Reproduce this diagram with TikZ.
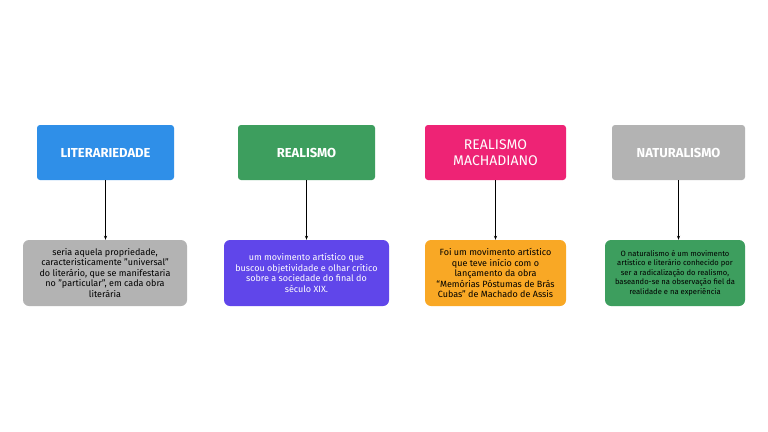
\documentclass[tikz,border=0pt]{standalone}
\usepackage{fontspec}
\setmainfont{Fira Sans}
\usetikzlibrary{arrows.meta}
\definecolor{cblue}{HTML}{2F8FE8}
\definecolor{cgreen}{HTML}{3D9E5E}
\definecolor{cpink}{HTML}{EE2375}
\definecolor{cgray}{HTML}{B3B3B3}
\definecolor{cpurple}{HTML}{6046EA}
\definecolor{corange}{HTML}{F9A825}
\tikzset{
 topbox/.style={rounded corners=3pt,text=white,font=\fontsize{13}{15}\selectfont\bfseries,align=center,inner sep=0pt},
 botbox/.style={rounded corners=6pt,align=center,inner sep=0pt,font=\fontsize{9}{10.5}\selectfont},
 conn/.style={-{Stealth[length=4pt,width=3pt]},line width=0.6pt}
}
\begin{document}
\begin{tikzpicture}[x=1pt,y=-1pt]
\useasboundingbox[fill=white] (0,0) rectangle (768,431);
\node[topbox,fill=cblue,minimum width=137pt,minimum height=55pt] (t1) at (105.5,152.5) {LITERARIEDADE};
\node[topbox,fill=cgreen,minimum width=137pt,minimum height=55pt] (t2) at (306.5,152.5) {REALISMO};
\node[topbox,fill=cpink,minimum width=141pt,minimum height=55pt,font=\fontsize{14}{16}\selectfont] (t3) at (495.5,152.5) {REALISMO\\MACHADIANO};
\node[topbox,fill=cgray,minimum width=133pt,minimum height=55pt] (t4) at (678.5,152.5) {NATURALISMO};
\node[botbox,fill=cgray,minimum width=164pt,minimum height=66pt] (b1) at (105,273) {seria aquela propriedade,\\caracteristicamente "universal"\\do literário, que se manifestaria\\no "particular", em cada obra\\literária};
\node[botbox,fill=cpurple,text=white,minimum width=165pt,minimum height=66pt] (b2) at (306.5,273) {um movimento artístico que\\buscou objetividade e olhar crítico\\sobre a sociedade do final do\\século XIX.};
\node[botbox,fill=corange,minimum width=141pt,minimum height=66pt] (b3) at (495.5,273) {Foi um movimento artístico\\que teve início com o\\lançamento da obra\\“Memórias Póstumas de Brás\\Cubas” de Machado de Assis};
\node[botbox,fill=cgreen,minimum width=140pt,minimum height=66pt,font=\fontsize{7.6}{9.6}\selectfont] (b4) at (675,273) {O naturalismo é um movimento\\artístico e literário conhecido por\\ser a radicalização do realismo,\\baseando-se na observação fiel da\\realidade e na experiência};
\draw[conn] (t1.south) -- (t1.south |- b1.north);
\draw[conn] (t2.south) -- (t2.south |- b2.north);
\draw[conn] (t3.south) -- (t3.south |- b3.north);
\draw[conn] (t4.south) -- (t4.south |- b4.north);
\end{tikzpicture}
\end{document}
